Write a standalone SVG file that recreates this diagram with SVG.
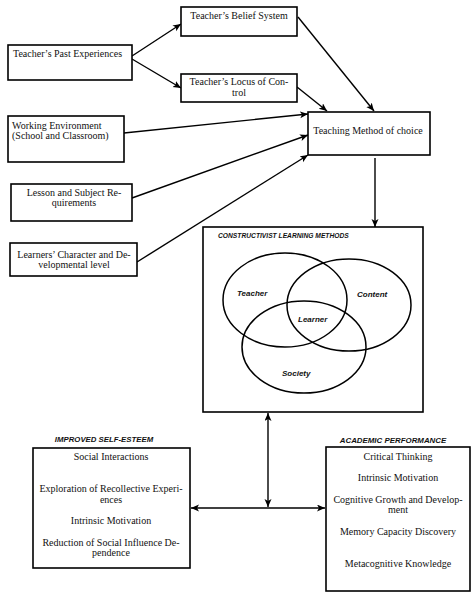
<svg xmlns="http://www.w3.org/2000/svg" width="474" height="602" viewBox="0 0 474 602">
<style>
.box{fill:#fff;stroke:#000;stroke-width:1.6}
.ell{fill:none;stroke:#000;stroke-width:1.5}
.ln{fill:none;stroke:#000;stroke-width:1.4}
.t{font-family:"Liberation Serif","Times New Roman",serif;font-size:10px;fill:#111}
.c{text-anchor:middle}
.h{font-family:"Liberation Sans",Arial,sans-serif;font-weight:bold;font-style:italic;fill:#111}
</style>
<defs>
<marker id="ah" markerUnits="userSpaceOnUse" markerWidth="9" markerHeight="8" refX="8" refY="3.5" orient="auto-start-reverse">
<path d="M0,0 L8,3.5 L0,7 L2,3.5 z" fill="#000"/>
</marker>
</defs>
<rect width="474" height="602" fill="#fff"/>
<g id="connectors">
<line class="ln" x1="132" y1="56" x2="181" y2="24" marker-end="url(#ah)"/>
<line class="ln" x1="132" y1="59" x2="181" y2="88" marker-end="url(#ah)"/>
<line class="ln" x1="298" y1="17" x2="374" y2="111" marker-end="url(#ah)"/>
<line class="ln" x1="297" y1="87" x2="327" y2="111" marker-end="url(#ah)"/>
<line class="ln" x1="124" y1="133" x2="308" y2="114" marker-end="url(#ah)"/>
<line class="ln" x1="132" y1="198" x2="308" y2="135" marker-end="url(#ah)"/>
<line class="ln" x1="137" y1="262" x2="308" y2="155" marker-end="url(#ah)"/>
<line class="ln" x1="375" y1="158" x2="375" y2="227" marker-end="url(#ah)"/>
<line class="ln" x1="268" y1="413" x2="268" y2="507" marker-start="url(#ah)" marker-end="url(#ah)"/>
<line class="ln" x1="191" y1="508" x2="325" y2="508" marker-start="url(#ah)" marker-end="url(#ah)"/>
</g>
<g id="past">
<rect class="box" x="8" y="45" width="124" height="35"/>
<text class="t" x="13" y="57">Teacher’s Past Experiences</text>
</g>
<g id="belief">
<rect class="box" x="181" y="7" width="116" height="29"/>
<text class="t c" x="239" y="19">Teacher’s Belief System</text>
</g>
<g id="locus">
<rect class="box" x="181" y="74" width="116" height="28"/>
<text class="t c" x="239" y="85">Teacher’s Locus of Con-</text>
<text class="t c" x="239" y="96">trol</text>
</g>
<g id="teaching">
<rect class="box" x="308" y="112" width="122" height="43"/>
<text class="t c" x="368" y="134">Teaching Method of choice</text>
</g>
<g id="workenv">
<rect class="box" x="8" y="116" width="116" height="46"/>
<text class="t" x="12" y="129">Working Environment</text>
<text class="t" x="12" y="139">(School and Classroom)</text>
</g>
<g id="lesson">
<rect class="box" x="11" y="184" width="121" height="37"/>
<text class="t c" x="74" y="196">Lesson and Subject Re-</text>
<text class="t c" x="74" y="206">quirements</text>
</g>
<g id="learners">
<rect class="box" x="10" y="243" width="127" height="33"/>
<text class="t c" x="74" y="258">Learners’ Character and De-</text>
<text class="t c" x="74" y="268">velopmental level</text>
</g>
<g id="constructivist">
<rect class="box" x="203" y="227" width="220" height="185"/>
<text class="h" x="218" y="238" font-size="6.7">CONSTRUCTIVIST LEARNING METHODS</text>
<ellipse class="ell" cx="285" cy="300" rx="62" ry="47"/>
<ellipse class="ell" cx="349" cy="305" rx="62" ry="46"/>
<ellipse class="ell" cx="304" cy="347" rx="62" ry="46"/>
<text class="h" x="237" y="296" font-size="8">Teacher</text>
<text class="h" x="357" y="297" font-size="8">Content</text>
<text class="h" x="298" y="322" font-size="8">Learner</text>
<text class="h" x="282" y="376" font-size="8">Society</text>
</g>
<g id="selfesteem">
<text class="h" x="104" y="442" font-size="7.8" text-anchor="middle">IMPROVED SELF-ESTEEM</text>
<rect class="box" x="33" y="448" width="157" height="120"/>
<text class="t c" x="111" y="460">Social Interactions</text>
<text class="t c" x="111" y="492">Exploration of Recollective Experi-</text>
<text class="t c" x="111" y="503">ences</text>
<text class="t c" x="111" y="524">Intrinsic Motivation</text>
<text class="t c" x="111" y="546">Reduction of Social Influence De-</text>
<text class="t c" x="111" y="556">pendence</text>
</g>
<g id="academic">
<text class="h" x="393" y="443" font-size="7.9" text-anchor="middle">ACADEMIC PERFORMANCE</text>
<rect class="box" x="326" y="447" width="144" height="144"/>
<text class="t c" x="398" y="460">Critical Thinking</text>
<text class="t c" x="398" y="481">Intrinsic Motivation</text>
<text class="t c" x="398" y="503">Cognitive Growth and Develop-</text>
<text class="t c" x="398" y="513">ment</text>
<text class="t c" x="398" y="535">Memory Capacity Discovery</text>
<text class="t c" x="398" y="567">Metacognitive Knowledge</text>
</g>
</svg>
